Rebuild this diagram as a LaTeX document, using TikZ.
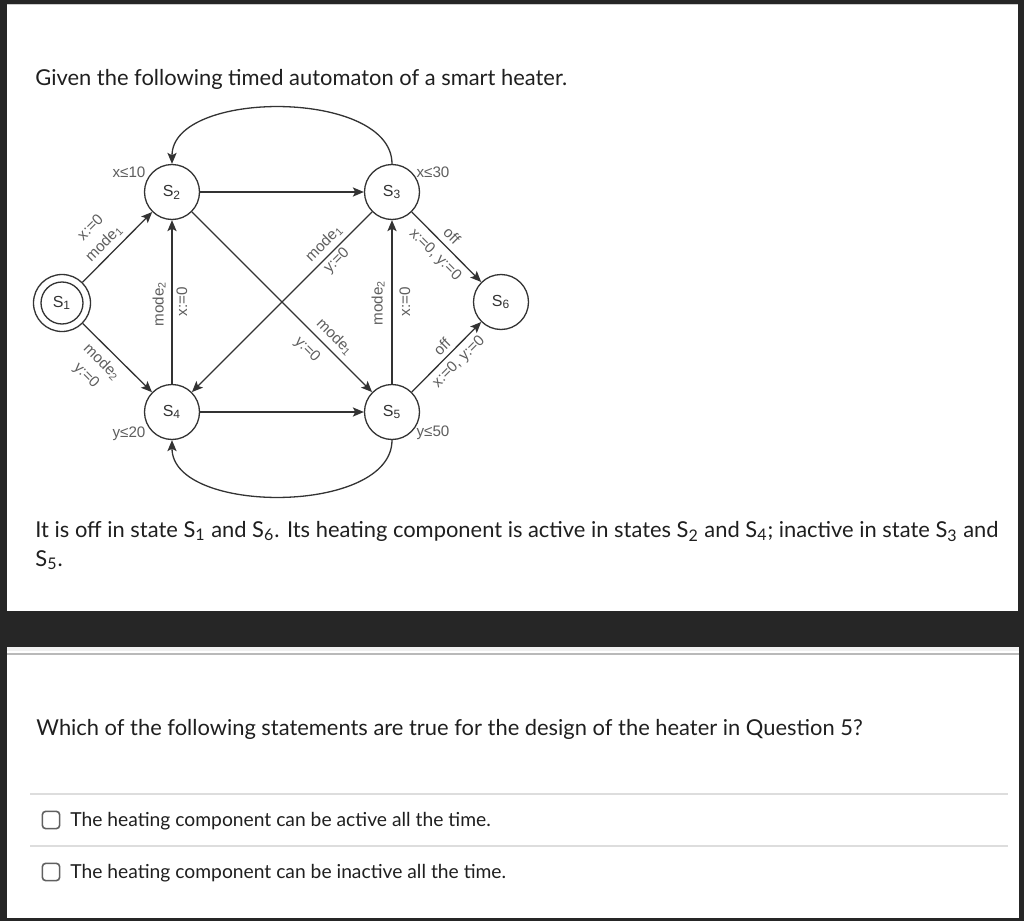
\documentclass[tikz,border=0pt]{standalone}
\usepackage{fontspec}
\setmainfont{Lato}
\newfontfamily\arialf{Liberation Sans}
\usetikzlibrary{arrows.meta}
\definecolor{framec}{HTML}{262626}
\definecolor{edgec}{HTML}{333333}
\definecolor{lblc}{HTML}{5E5E5E}
\definecolor{txtc}{HTML}{1F1F1F}
\definecolor{sepc}{HTML}{DDDDDD}
\newcommand{\lsub}[1]{\textsubscript{#1}}
\begin{document}
\begin{tikzpicture}[x=0.5pt,y=-0.5pt,
  state/.style={circle, draw=edgec, line width=0.65pt, minimum size=27.5pt, inner sep=0pt,
    font=\arialf\fontsize{8}{9}\selectfont, text=edgec},
  tr/.style={draw=edgec, line width=0.65pt, -{Stealth[length=5.5pt,width=4.6pt,inset=1.2pt]}},
  lbl/.style={font=\arialf\fontsize{7.6}{9}\selectfont, text=lblc, inner sep=0pt},
  body/.style={anchor=base west, inner sep=0pt, text=txtc, font=\fontsize{10.95}{13}\selectfont},
  opt/.style={anchor=base west, inner sep=0pt, text=txtc, font=\fontsize{9.63}{11}\selectfont},
  cbox/.style={draw=gray!75!black, line width=0.8pt, rounded corners=1.6pt, minimum size=8.6pt, inner sep=0pt}]
\useasboundingbox (0,0) rectangle (1024,921);
% page frame
\fill[framec] (0,0) rectangle (1024,921);
\fill[white] (7,4) rectangle (1018,611);
\draw[gray!40, line width=0.6pt] (7,4.6) -- (1018,4.6);
\fill[white] (7,647) rectangle (1019,918);
\fill[gray!12] (7,647) rectangle (1019,651);
\draw[gray!55, line width=0.8pt] (7,654) -- (1019,654);

% texts
\node[body] (t1) at (35,85) {Given the following timed automaton of a smart heater.};
\node[body] (t2) at (35,537) {It is off in state S\lsub{1} and S\lsub{6}. Its heating component is active in states S\lsub{2} and S\lsub{4}; inactive in state S\lsub{3} and};
\node[body] (t3) at (35,566) {S\lsub{5}.};
\node[body] (q) at (36,735) {Which of the following statements are true for the design of the heater in Question 5?};

% answers
\draw[sepc, line width=0.6pt] (30,794) -- (1008,794);
\draw[sepc, line width=0.6pt] (30,846) -- (1008,846);
\node[cbox] (cb1) at (51,820) {};
\node[opt] (a1) at (70,826) {The heating component can be active all the time.};
\node[cbox] (cb2) at (51,872) {};
\node[opt] (a2) at (70,878) {The heating component can be inactive all the time.};

% states
\node[state, minimum size=28.5pt] (s1) at (62,303) {S\lsub{1}};
\draw[edgec, line width=0.65pt] (s1.center) circle[radius=10.5pt];
\node[state] (s2) at (172,192) {S\lsub{2}};
\node[state] (s3) at (392,192) {S\lsub{3}};
\node[state] (s4) at (172,412) {S\lsub{4}};
\node[state] (s5) at (392,412) {S\lsub{5}};
\node[state] (s6) at (501,302) {S\lsub{6}};

% transitions
\draw[tr] (s1) -- (s2);
\draw[tr] (s1) -- (s4);
\draw[tr] (s2) -- (s3);
\draw[tr] (s4) -- (s5);
\draw[tr] (s4) -- (s2);
\draw[tr] (s5) -- (s3);
\draw[tr] (s2) -- (s5);
\draw[tr] (s3) -- (s4);
\draw[tr] (s3) -- (s6);
\draw[tr] (s5) -- (s6);
\draw[tr] (s3.north) .. controls +(0,-75) and +(0,-75) .. (s2.north);
\draw[tr] (s5.south) .. controls +(0,75) and +(0,75) .. (s4.south);

% invariants
\node[lbl] (i2) at (129,172) {x≤10};
\node[lbl] (i4) at (129,434) {y≤20};
\node[lbl] (i3) at (433,172) {x≤30};
\node[lbl] (i5) at (433,433) {y≤50};

% edge labels
\node[lbl, rotate=45] (l12a) at (90,227) {x:=0};
\node[lbl, rotate=45] (l12b) at (104,243) {mode\lsub{1}};
\node[lbl, rotate=-45] (l14a) at (102,362) {mode\lsub{2}};
\node[lbl, rotate=-45] (l14b) at (86,376) {y:=0};
\node[lbl, rotate=90] (l42a) at (159,304) {mode\lsub{2}};
\node[lbl, rotate=90] (l42b) at (182,302) {x:=0};
\node[lbl, rotate=90] (l53a) at (378,303) {mode\lsub{2}};
\node[lbl, rotate=90] (l53b) at (405,302) {x:=0};
\node[lbl, rotate=45] (l34a) at (324,243) {mode\lsub{1}};
\node[lbl, rotate=45] (l34b) at (337,261) {y:=0};
\node[lbl, rotate=-45] (l25a) at (335,337) {mode\lsub{1}};
\node[lbl, rotate=-45] (l25b) at (307,350) {y:=0};
\node[lbl, rotate=-45] (l36a) at (452,236) {off};
\node[lbl, rotate=-45] (l36b) at (435,255) {x:=0, y:=0};
\node[lbl, rotate=45] (l56a) at (442,347) {off};
\node[lbl, rotate=45] (l56b) at (459,362) {x:=0, y:=0};
\end{tikzpicture}
\end{document}
